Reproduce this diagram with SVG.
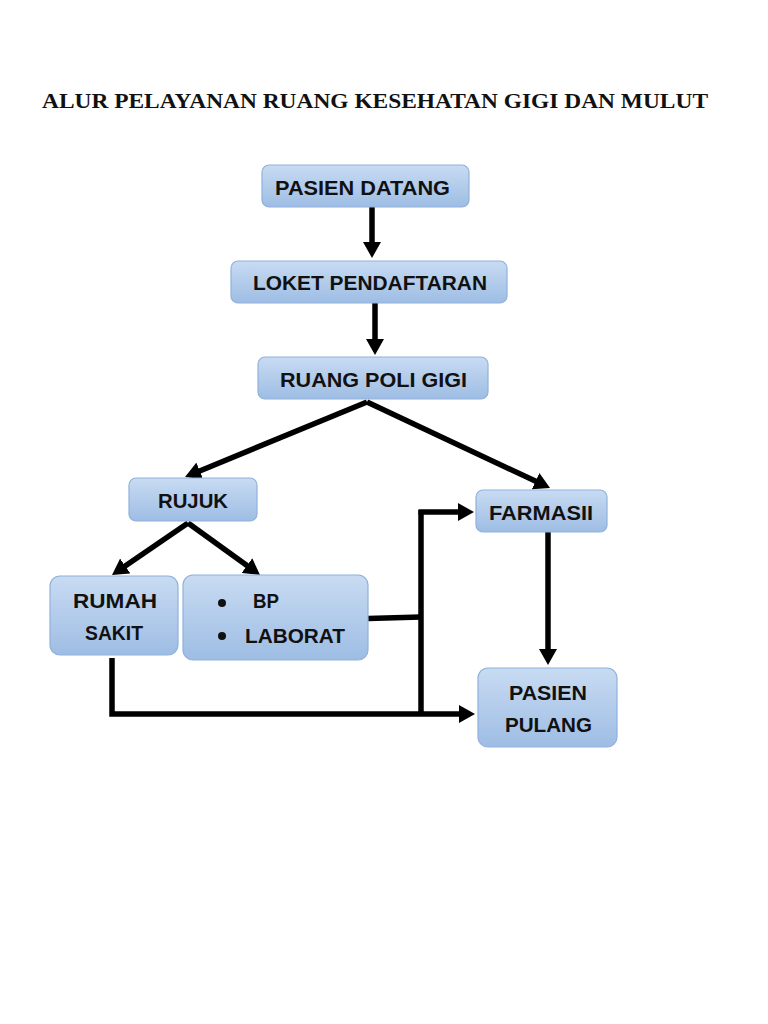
<svg xmlns="http://www.w3.org/2000/svg" width="768" height="1024" viewBox="0 0 768 1024">
<style>
.box{fill:url(#g);stroke:#8fb1dc;stroke-width:1.2}
.t{font-family:"Liberation Sans",Arial,sans-serif;font-weight:bold;font-size:21px;fill:#111}
.c{fill:none;stroke:#000;stroke-width:5.5}
.title{font-family:"Liberation Serif","Times New Roman",serif;font-weight:bold;font-size:20.5px;fill:#111}
</style>
<defs>
<linearGradient id="g" x1="0" y1="0" x2="0" y2="1">
<stop offset="0" stop-color="#c8dbf2"/>
<stop offset="1" stop-color="#9ebde4"/>
</linearGradient>
<marker id="ah" viewBox="0 0 16 18" markerWidth="16" markerHeight="18" markerUnits="userSpaceOnUse" refX="8" refY="9" orient="auto">
<path d="M0,0 L16,9 L0,18 z" fill="#000"/>
</marker>
</defs>
<rect width="768" height="1024" fill="#fff"/>
<text class="title" x="42" y="108" textLength="666" lengthAdjust="spacingAndGlyphs">ALUR PELAYANAN RUANG KESEHATAN GIGI DAN MULUT</text>

<g id="connectors">
<line class="c" x1="372" y1="207" x2="372" y2="250" marker-end="url(#ah)"/>
<line class="c" x1="375" y1="303" x2="375" y2="347" marker-end="url(#ah)"/>
<line class="c" x1="367" y1="402" x2="192.4" y2="474" marker-end="url(#ah)"/>
<line class="c" x1="367" y1="402" x2="542.8" y2="484.6" marker-end="url(#ah)"/>
<line class="c" x1="188" y1="523" x2="118.6" y2="570.5" marker-end="url(#ah)"/>
<line class="c" x1="188" y1="523" x2="253.5" y2="570.3" marker-end="url(#ah)"/>
<line class="c" x1="368" y1="618.5" x2="421" y2="617"/>
<line class="c" x1="421" y1="510" x2="421" y2="716"/>
<line class="c" x1="418.5" y1="512" x2="466" y2="512" marker-end="url(#ah)"/>
<polyline class="c" points="112,658 112,714 467,714" marker-end="url(#ah)"/>
<line class="c" x1="548" y1="532" x2="548" y2="657" marker-end="url(#ah)"/>
</g>

<g id="pasien-datang">
<rect class="box" x="262" y="165" width="207" height="42" rx="7"/>
<text class="t" x="275" y="195" textLength="175" lengthAdjust="spacingAndGlyphs">PASIEN DATANG</text>
</g>
<g id="loket-pendaftaran">
<rect class="box" x="231" y="261" width="276" height="42" rx="7"/>
<text class="t" x="253" y="290" textLength="234" lengthAdjust="spacingAndGlyphs">LOKET PENDAFTARAN</text>
</g>
<g id="ruang-poli-gigi">
<rect class="box" x="258" y="357" width="230" height="42" rx="7"/>
<text class="t" x="280" y="387" textLength="187" lengthAdjust="spacingAndGlyphs">RUANG POLI GIGI</text>
</g>
<g id="rujuk">
<rect class="box" x="129" y="478" width="128" height="43" rx="7"/>
<text class="t" x="158" y="508" textLength="70" lengthAdjust="spacingAndGlyphs">RUJUK</text>
</g>
<g id="rumah-sakit">
<rect class="box" x="50" y="576" width="128" height="79" rx="10"/>
<text class="t" x="73" y="608" textLength="84" lengthAdjust="spacingAndGlyphs">RUMAH</text>
<text class="t" x="85" y="640" textLength="58" lengthAdjust="spacingAndGlyphs">SAKIT</text>
</g>
<g id="bp-laborat">
<rect class="box" x="183" y="575" width="185" height="85" rx="10"/>
<circle cx="222" cy="603" r="4" fill="#111"/>
<circle cx="222" cy="636" r="4" fill="#111"/>
<text class="t" x="253" y="608" textLength="26" lengthAdjust="spacingAndGlyphs">BP</text>
<text class="t" x="245" y="643" textLength="100" lengthAdjust="spacingAndGlyphs">LABORAT</text>
</g>
<g id="farmasii">
<rect class="box" x="476" y="490" width="131" height="42" rx="7"/>
<text class="t" x="489" y="520" textLength="104" lengthAdjust="spacingAndGlyphs">FARMASII</text>
</g>
<g id="pasien-pulang">
<rect class="box" x="478" y="668" width="139" height="79" rx="10"/>
<text class="t" x="509" y="700" textLength="78" lengthAdjust="spacingAndGlyphs">PASIEN</text>
<text class="t" x="505" y="732" textLength="87" lengthAdjust="spacingAndGlyphs">PULANG</text>
</g>
</svg>
